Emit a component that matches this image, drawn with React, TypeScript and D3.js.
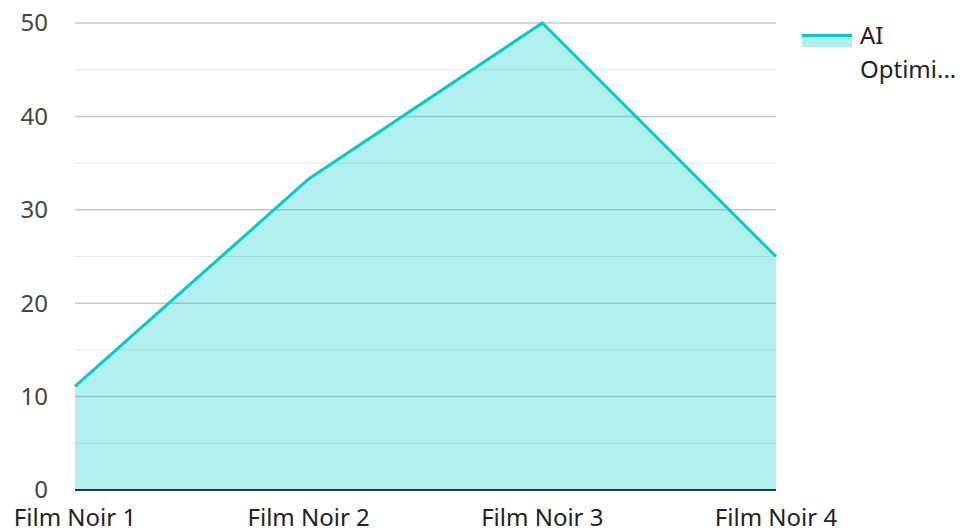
import React, { useEffect, useRef } from "react";
import * as d3 from "d3";

const categories = ["Film Noir 1", "Film Noir 2", "Film Noir 3", "Film Noir 4"];
const values = [11.1, 33.3, 50, 25];
const yTicks = [0, 10, 20, 30, 40, 50];
const yMinorTicks = [5, 15, 25, 35, 45];
const seriesName = ["AI", "Optimi..."];

const W = 962;
const H = 531;
const LINE = "#00cccc";
const FILL = "rgba(0,204,204,0.3)";
const FONT = "'Noto Sans', 'Open Sans', sans-serif";

const App = () => {
  const ref = useRef<SVGSVGElement>(null);

  useEffect(() => {
    const svg = d3.select(ref.current);
    svg.selectAll("*").remove();

    const x = d3.scalePoint().domain(categories).range([75, 776]);
    const y = d3.scaleLinear().domain([0, 50]).range([490, 23]);

    // grid
    svg
      .append("g")
      .selectAll("line")
      .data(yMinorTicks)
      .join("line")
      .attr("x1", 75)
      .attr("x2", 776)
      .attr("y1", (d) => y(d))
      .attr("y2", (d) => y(d))
      .attr("stroke", "#e6e6e6")
      .attr("stroke-width", 1);

    svg
      .append("g")
      .selectAll("line")
      .data(yTicks.filter((d) => d > 0))
      .join("line")
      .attr("x1", 75)
      .attr("x2", 776)
      .attr("y1", (d) => y(d))
      .attr("y2", (d) => y(d))
      .attr("stroke", "#c8c8c8")
      .attr("stroke-width", 1.5);

    const pts = categories.map((c, i) => [x(c) as number, values[i]] as [number, number]);

    const area = d3
      .area<[number, number]>()
      .x((d) => d[0])
      .y0(y(0))
      .y1((d) => y(d[1]));

    const line = d3
      .line<[number, number]>()
      .x((d) => d[0])
      .y((d) => y(d[1]));

    svg.append("path").attr("d", area(pts)).attr("fill", FILL);
    svg
      .append("path")
      .attr("d", line(pts))
      .attr("fill", "none")
      .attr("stroke", LINE)
      .attr("stroke-width", 3)
      .attr("stroke-linejoin", "miter");

    // bottom axis line
    svg
      .append("line")
      .attr("x1", 75)
      .attr("x2", 776)
      .attr("y1", y(0))
      .attr("y2", y(0))
      .attr("stroke", "#333")
      .attr("stroke-width", 2);

    // y labels
    svg
      .append("g")
      .selectAll("text")
      .data(yTicks)
      .join("text")
      .text((d) => d)
      .attr("x", 48)
      .attr("y", (d) => y(d))
      .attr("dy", "0.35em")
      .attr("text-anchor", "end")
      .attr("fill", "#444")
      .attr("font-family", FONT)
      .attr("font-size", "24px");

    // x labels
    svg
      .append("g")
      .selectAll("text")
      .data(categories)
      .join("text")
      .text((d) => d)
      .attr("x", (d) => x(d) as number)
      .attr("y", 518)
      .attr("dy", "0.35em")
      .attr("text-anchor", "middle")
      .attr("fill", "#222")
      .attr("font-family", FONT)
      .attr("font-size", "24px");

    // legend
    const lg = svg.append("g").attr("transform", "translate(802,34)");
    lg.append("rect").attr("x", 0).attr("y", 0).attr("width", 50).attr("height", 13).attr("fill", FILL);
    lg.append("line")
      .attr("x1", 0)
      .attr("x2", 50)
      .attr("y1", 1.5)
      .attr("y2", 1.5)
      .attr("stroke", LINE)
      .attr("stroke-width", 3);
    lg.selectAll("text")
      .data(seriesName)
      .join("text")
      .text((d) => d)
      .attr("x", 58)
      .attr("y", (d, i) => 2 + i * 34)
      .attr("dy", "0.35em")
      .attr("fill", "#222")
      .attr("font-family", FONT)
      .attr("font-size", "24px");
  }, []);

  return (
    <svg
      ref={ref}
      width={W}
      height={H}
      style={{ position: "absolute", left: 0, top: 0, background: "#fff" }}
    ></svg>
  );
};

export default App;
